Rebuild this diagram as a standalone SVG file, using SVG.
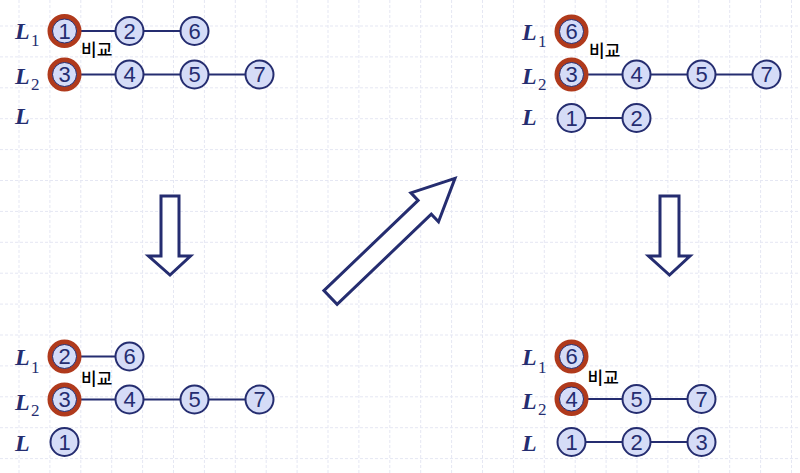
<svg xmlns="http://www.w3.org/2000/svg" width="800" height="473" viewBox="0 0 800 473">
<defs>
<style>
.grid{stroke:#e5e7f3;stroke-width:1;stroke-dasharray:3 2;fill:none}
.edge{stroke:#252d70;stroke-width:2;fill:none}
.nd{fill:#d5dcf7;stroke:#252d70;stroke-width:2}
.hl{fill:#d5dcf7;stroke:#b03a1c;stroke-width:5}
.hli{fill:none;stroke:#252d70;stroke-width:1}
.num{font-family:"Liberation Sans","DejaVu Sans",sans-serif;font-size:22px;fill:#252d70;text-anchor:middle}
.L{font-family:"Liberation Serif",serif;font-size:24px;font-weight:bold;font-style:italic;fill:#252d70}
.sub{font-family:"Liberation Serif",serif;font-size:17px;fill:#252d70}
.cmp{font-family:"Noto Sans CJK KR","Noto Sans",sans-serif;font-size:17px;font-weight:500;fill:#000}
.arrow{fill:#fff;stroke:#252d70;stroke-width:3;stroke-linejoin:miter}
</style>
</defs>
<rect width="800" height="473" fill="#fff"/>
<g id="grid">
<path class="grid" d="M19 0V473M49.9 0V473M80.8 0V473M111.7 0V473M142.6 0V473M173.5 0V473M204.4 0V473M235.3 0V473M266.2 0V473M297.1 0V473M328 0V473M358.9 0V473M389.8 0V473M420.7 0V473M451.6 0V473M482.5 0V473M513.4 0V473M544.3 0V473M575.2 0V473M606.1 0V473M637 0V473M667.9 0V473M698.8 0V473M729.7 0V473M760.6 0V473M791.5 0V473"/>
<path class="grid" d="M0 26H800M0 56.9H800M0 87.8H800M0 118.7H800M0 149.6H800M0 180.5H800M0 211.4H800M0 242.3H800M0 273.2H800M0 304.1H800M0 335H800M0 365.9H800M0 396.8H800M0 427.7H800M0 458.6H800"/>
</g>
<g id="connectors">
<path class="edge" d="M64.5 31H194.5M64.5 74.5H259.5"/>
<path class="edge" d="M571.5 74.5H766.5M571.5 118H636.5"/>
<path class="edge" d="M64.5 356.5H129.5M64.5 399.5H259.5"/>
<path class="edge" d="M571.5 399H701.5M571.5 442H701.5"/>
</g>
<g id="labels">
<text class="L" x="15" y="39">L</text><text class="sub" x="31" y="46">1</text>
<text class="L" x="15" y="84">L</text><text class="sub" x="31" y="90">2</text>
<text class="L" x="15" y="124">L</text>
<text class="L" x="522" y="40">L</text><text class="sub" x="538" y="47">1</text>
<text class="L" x="522" y="84">L</text><text class="sub" x="538" y="90">2</text>
<text class="L" x="522" y="125">L</text>
<text class="L" x="15" y="365">L</text><text class="sub" x="31" y="373">1</text>
<text class="L" x="15" y="410">L</text><text class="sub" x="31" y="416">2</text>
<text class="L" x="15" y="451">L</text>
<text class="L" x="522" y="365">L</text><text class="sub" x="538" y="373">1</text>
<text class="L" x="522" y="409">L</text><text class="sub" x="538" y="415">2</text>
<text class="L" x="522" y="451">L</text>
<text class="cmp" x="81" y="56">비교</text>
<text class="cmp" x="589" y="57">비교</text>
<text class="cmp" x="81" y="385">비교</text>
<text class="cmp" x="587.5" y="384">비교</text>
</g>
<g id="tl-1"><circle class="hl" cx="64.5" cy="31" r="14.5"/><circle class="hli" cx="64.5" cy="31" r="12"/><text class="num" x="64.5" y="38.8">1</text></g>
<g id="tl-2"><circle class="nd" cx="129.5" cy="31" r="14"/><text class="num" x="129.5" y="38.8">2</text></g>
<g id="tl-6"><circle class="nd" cx="194.5" cy="31" r="14"/><text class="num" x="194.5" y="38.8">6</text></g>
<g id="tl-3"><circle class="hl" cx="64.5" cy="74.5" r="14.5"/><circle class="hli" cx="64.5" cy="74.5" r="12"/><text class="num" x="64.5" y="82.3">3</text></g>
<g id="tl-4"><circle class="nd" cx="129.5" cy="74.5" r="14"/><text class="num" x="129.5" y="82.3">4</text></g>
<g id="tl-5"><circle class="nd" cx="194.5" cy="74.5" r="14"/><text class="num" x="194.5" y="82.3">5</text></g>
<g id="tl-7"><circle class="nd" cx="259.5" cy="74.5" r="14"/><text class="num" x="259.5" y="82.3">7</text></g>
<g id="tr-6"><circle class="hl" cx="571.5" cy="31.5" r="14.5"/><circle class="hli" cx="571.5" cy="31.5" r="12"/><text class="num" x="571.5" y="39.3">6</text></g>
<g id="tr-3"><circle class="hl" cx="571.5" cy="74.5" r="14.5"/><circle class="hli" cx="571.5" cy="74.5" r="12"/><text class="num" x="571.5" y="82.3">3</text></g>
<g id="tr-4"><circle class="nd" cx="636.5" cy="74.5" r="14"/><text class="num" x="636.5" y="82.3">4</text></g>
<g id="tr-5"><circle class="nd" cx="701.5" cy="74.5" r="14"/><text class="num" x="701.5" y="82.3">5</text></g>
<g id="tr-7"><circle class="nd" cx="766.5" cy="74.5" r="14"/><text class="num" x="766.5" y="82.3">7</text></g>
<g id="tr-1"><circle class="nd" cx="571.5" cy="118" r="14"/><text class="num" x="571.5" y="125.8">1</text></g>
<g id="tr-2"><circle class="nd" cx="636.5" cy="118" r="14"/><text class="num" x="636.5" y="125.8">2</text></g>
<g id="bl-2"><circle class="hl" cx="64.5" cy="356.5" r="14.5"/><circle class="hli" cx="64.5" cy="356.5" r="12"/><text class="num" x="64.5" y="364.3">2</text></g>
<g id="bl-6"><circle class="nd" cx="129.5" cy="356.5" r="14"/><text class="num" x="129.5" y="364.3">6</text></g>
<g id="bl-3"><circle class="hl" cx="64.5" cy="399.5" r="14.5"/><circle class="hli" cx="64.5" cy="399.5" r="12"/><text class="num" x="64.5" y="407.3">3</text></g>
<g id="bl-4"><circle class="nd" cx="129.5" cy="399.5" r="14"/><text class="num" x="129.5" y="407.3">4</text></g>
<g id="bl-5"><circle class="nd" cx="194.5" cy="399.5" r="14"/><text class="num" x="194.5" y="407.3">5</text></g>
<g id="bl-7"><circle class="nd" cx="259.5" cy="399.5" r="14"/><text class="num" x="259.5" y="407.3">7</text></g>
<g id="bl-1"><circle class="nd" cx="64.5" cy="442" r="14"/><text class="num" x="64.5" y="449.8">1</text></g>
<g id="br-6"><circle class="hl" cx="571.5" cy="356.5" r="14.5"/><circle class="hli" cx="571.5" cy="356.5" r="12"/><text class="num" x="571.5" y="364.3">6</text></g>
<g id="br-4"><circle class="hl" cx="571.5" cy="399" r="14.5"/><circle class="hli" cx="571.5" cy="399" r="12"/><text class="num" x="571.5" y="406.8">4</text></g>
<g id="br-5"><circle class="nd" cx="636.5" cy="399" r="14"/><text class="num" x="636.5" y="406.8">5</text></g>
<g id="br-7"><circle class="nd" cx="701.5" cy="399" r="14"/><text class="num" x="701.5" y="406.8">7</text></g>
<g id="br-1"><circle class="nd" cx="571.5" cy="442" r="14"/><text class="num" x="571.5" y="449.8">1</text></g>
<g id="br-2"><circle class="nd" cx="636.5" cy="442" r="14"/><text class="num" x="636.5" y="449.8">2</text></g>
<g id="br-3"><circle class="nd" cx="701.5" cy="442" r="14"/><text class="num" x="701.5" y="449.8">3</text></g>
<g id="arrows">
<polygon class="arrow" points="161,196 179,196 179,256 190.5,256 170,275 148.5,256 161,256"/>
<polygon class="arrow" points="660,196 679,196 679,256 690,256 669.5,275 648.5,256 660,256"/>
<polygon class="arrow" points="323.9,290.6 418.1,200.4 410.9,192.9 455,178.3 438.5,221.7 431.3,214.2 337.1,304.4"/>
</g>
</svg>
